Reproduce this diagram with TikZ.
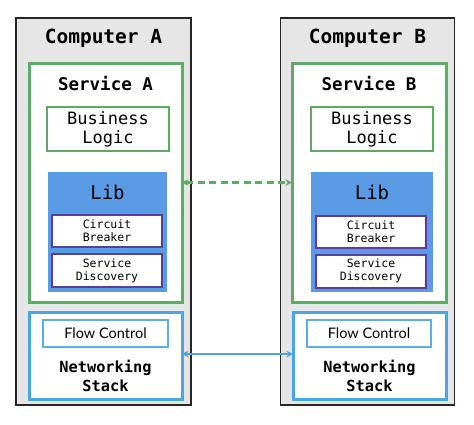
\documentclass[tikz,border=0pt]{standalone}
\usepackage{fontspec}
\newfontfamily\monofont{DejaVu Sans Mono}
\newfontfamily\flowfont{Lato}
\usetikzlibrary{arrows.meta}
\definecolor{compgray}{HTML}{E6E6E6}
\definecolor{svcgreen}{HTML}{5CAD5F}
\definecolor{libblue}{HTML}{5B9BE6}
\definecolor{cbpurple}{HTML}{5A3E98}
\definecolor{netblue}{HTML}{4AA5E0}
\definecolor{fcblue}{HTML}{5AAEE3}
\tikzset{
  box/.style={rectangle, inner sep=0pt, outer sep=0pt},
  computer/.style={box, draw=black!85, fill=compgray, line width=1.6pt},
  service/.style={box, draw=svcgreen, fill=white, line width=3pt},
  bizlogic/.style={box, draw=svcgreen, fill=white, line width=1.6pt, align=center,
     font=\monofont\fontsize{17}{20}\selectfont},
  libbox/.style={box, fill=libblue},
  cbbox/.style={box, draw=cbpurple, fill=white, line width=2pt, align=center,
     font=\monofont\fontsize{11.5}{13}\selectfont},
  netbox/.style={box, draw=netblue, fill=white, line width=3pt},
  fcbox/.style={box, draw=fcblue, fill=white, line width=1.6pt,
     font=\flowfont\fontsize{14.5}{17}\selectfont},
  title/.style={inner sep=0pt, font=\monofont\bfseries\fontsize{19.5}{22}\selectfont},
  subtitle/.style={inner sep=0pt, font=\monofont\bfseries\fontsize{17.5}{20}\selectfont},
  libtitle/.style={inner sep=0pt, font=\monofont\fontsize{19}{22}\selectfont},
  nettitle/.style={inner sep=0pt, align=center, font=\monofont\bfseries\fontsize{15.3}{19}\selectfont},
  link/.style={line width=2.4pt, >={Stealth[length=6.5pt,width=6.5pt]}, <->},
}
\begin{document}
\begin{tikzpicture}[x=1pt,y=-1pt]
\useasboundingbox (0,0) rectangle (474,424);
% Computer A
\node[computer, minimum width=175, minimum height=387] (CA) at (103.5,211.5) {};
\node[title] (CAt) at (103.5,38) {Computer A};
\node[service, minimum width=153, minimum height=239] (SA) at (105.5,182.5) {};
\node[subtitle] (SAt) at (105.5,84) {Service A};
\node[bizlogic, minimum width=122, minimum height=44] (BLA) at (108,129) {Business\\[-1pt]Logic};
\node[libbox, minimum width=119, minimum height=120] (LA) at (107.5,232) {};
\node[libtitle] (LAt) at (107.5,192.5) {Lib};
\node[cbbox, minimum width=110, minimum height=32] (CBA) at (107,231) {Circuit\\Breaker};
\node[cbbox, minimum width=110, minimum height=33] (SDA) at (107,270.5) {Service\\Discovery};
\node[netbox, minimum width=153, minimum height=87] (NA) at (105.5,355.5) {};
\node[fcbox, minimum width=125, minimum height=27] (FCA) at (105.5,333.5) {Flow Control};
\node[nettitle] (NAt) at (105.5,375.5) {Networking\\Stack};
% Computer B
\node[computer, minimum width=174, minimum height=387] (CB) at (367.5,211.5) {};
\node[title] (CBt) at (367.5,38) {Computer B};
\node[service, minimum width=154, minimum height=239] (SB) at (369,182.5) {};
\node[subtitle] (SBt) at (369,84) {Service B};
\node[bizlogic, minimum width=122, minimum height=44] (BLB) at (372,129) {Business\\[-1pt]Logic};
\node[libbox, minimum width=122, minimum height=120] (LB) at (372,232) {};
\node[libtitle] (LBt) at (372,192.5) {Lib};
\node[cbbox, minimum width=110, minimum height=32] (CBB) at (371,231.5) {Circuit\\Breaker};
\node[cbbox, minimum width=110, minimum height=33] (SDB) at (371,271) {Service\\Discovery};
\node[netbox, minimum width=153, minimum height=87] (NB) at (369.5,355.5) {};
\node[fcbox, minimum width=124, minimum height=27] (FCB) at (369,333.5) {Flow Control};
\node[nettitle] (NBt) at (369.5,375.5) {Networking\\Stack};
% connectors
\draw[link, svcgreen, dash pattern=on 7pt off 4.5pt] (SA.east) -- (SB.west);
\draw[link, netblue] ([yshift=1.5pt]NA.east) -- ([yshift=1.5pt]NB.west);
\end{tikzpicture}
\end{document}
